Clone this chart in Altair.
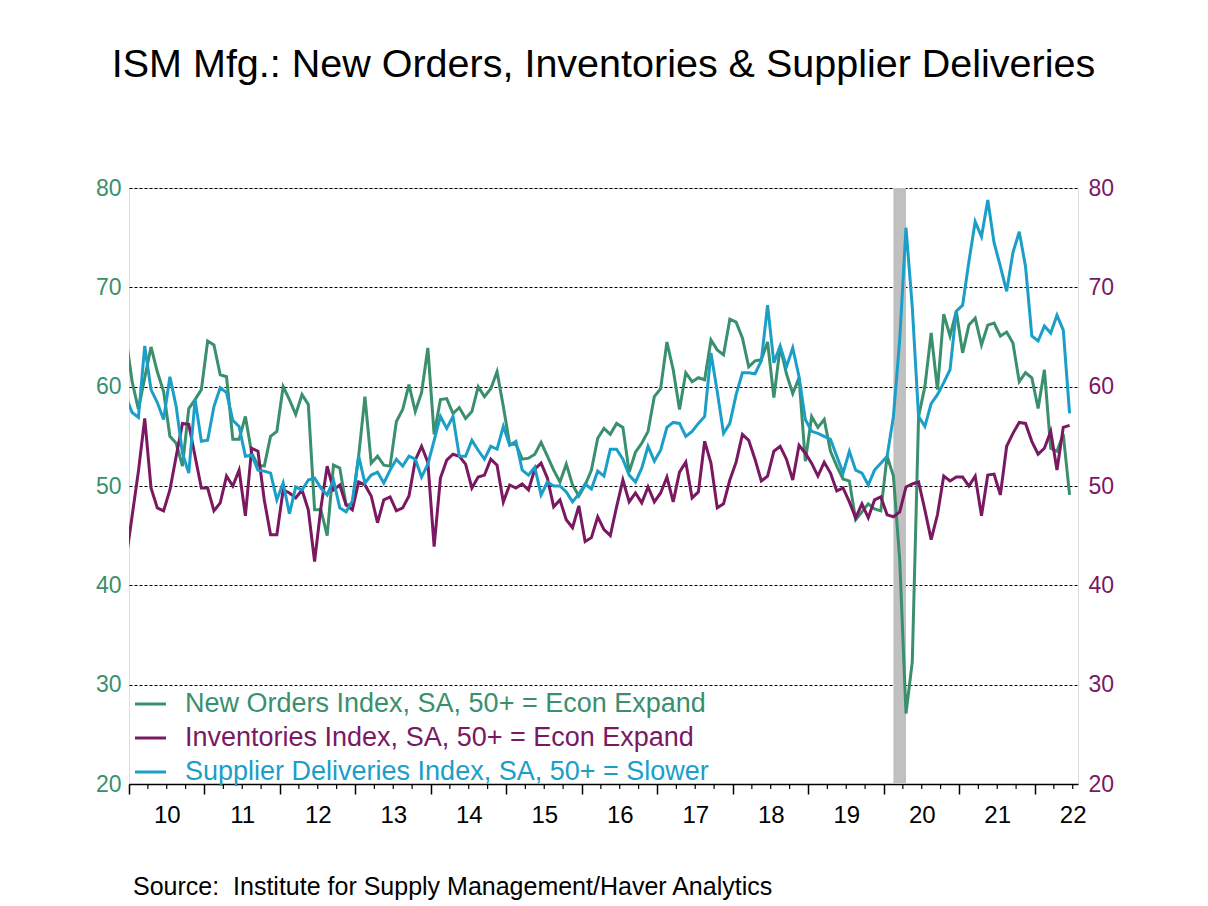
import altair as alt
import pandas as pd

# Monthly readings, Dec 2009 through Jun 2022 (Dec 2009 sits just left of the axis and is clipped)
months = pd.period_range("2009-12", "2022-06", freq="M")

new_orders = [
    65.0,
    60.5, 57.7, 60.9, 64.0, 61.5, 59.5, 55.0, 54.3, 52.0, 57.8, 58.7, 59.7,
    64.6, 64.2, 61.2, 61.0, 54.7, 54.7, 57.0, 53.3, 52.1, 52.0, 55.0, 55.5,
    60.0, 58.7, 57.2, 59.2, 58.2, 47.6, 47.6, 45.0, 52.1, 51.8, 48.1, 48.1,
    53.0, 59.0, 52.3, 53.0, 52.1, 52.0, 56.5, 57.7, 60.2, 57.5, 59.4, 63.9,
    55.2, 58.7, 58.8, 57.3, 57.9, 56.8, 57.5, 60.0, 59.0, 59.8, 61.5, 58.0,
    54.2, 54.2, 52.7, 52.8, 53.2, 54.4, 53.0, 51.6, 50.4, 52.2, 50.1, 49.0,
    50.1, 51.6, 54.8, 55.8, 55.2, 56.3, 55.9, 51.4, 53.4, 54.3, 55.5, 59.0,
    59.8, 64.5, 61.7, 57.7, 61.4, 60.5, 60.9, 60.7, 64.7, 63.7, 63.2, 66.8,
    66.5, 64.9, 62.0, 62.6, 62.7, 64.5, 58.9, 64.0, 61.3, 59.3, 60.9, 52.5,
    57.0, 55.9, 56.7, 53.5, 52.0, 50.7, 50.5, 46.6, 47.4, 48.2, 47.7, 47.5,
    53.0, 51.0, 42.6, 27.1, 32.3, 57.0, 60.0, 65.4, 59.7, 67.3, 65.1, 67.6,
    63.4, 66.2, 66.9, 64.2, 66.2, 66.4, 65.1, 65.5, 64.4, 60.5, 61.4, 60.9,
    57.8, 61.7, 53.8, 53.5, 55.2, 49.1,
]

inventories = [
    42.5,
    47.0, 51.5, 56.8, 49.8, 47.8, 47.5, 49.6, 53.0, 56.3, 56.2, 53.0, 49.8,
    49.8, 47.5, 48.3, 51.0, 50.0, 51.6, 47.0, 53.8, 53.5, 48.6, 45.1, 45.1,
    49.6, 49.3, 48.8, 49.6, 47.6, 42.4, 47.8, 52.0, 49.6, 50.1, 48.1, 47.6,
    50.4, 50.1, 49.0, 46.3, 48.6, 48.9, 47.5, 47.8, 49.0, 52.6, 54.0, 52.4,
    43.9, 50.8, 52.6, 53.2, 53.0, 52.2, 49.8, 50.9, 51.1, 52.7, 52.1, 48.4,
    50.1, 49.8, 50.2, 49.6, 51.7, 52.3, 50.8, 47.9, 48.6, 46.6, 45.8, 48.0,
    44.4, 44.8, 46.9, 45.6, 45.0, 47.9, 50.6, 48.4, 49.3, 48.3, 49.9, 48.4,
    49.3, 50.9, 48.4, 51.4, 52.4, 48.8, 49.4, 54.5, 52.3, 47.8, 48.2, 50.6,
    52.4, 55.2, 54.6, 52.7, 50.5, 51.0, 53.5, 54.0, 52.7, 50.6, 54.1, 53.3,
    52.3, 51.0, 52.4, 51.3, 49.5, 49.8, 48.4, 46.8, 48.2, 46.8, 48.6, 48.9,
    47.1, 46.9, 47.4, 49.9, 50.2, 50.4, 47.6, 44.6, 47.1, 51.0, 50.5, 50.9,
    50.9, 50.0, 51.0, 47.0, 51.1, 51.2, 49.1, 54.0, 55.3, 56.4, 56.3, 54.5,
    53.2, 53.8, 55.5, 51.6, 55.9, 56.1,
]

supplier_deliveries = [
    59.0,
    57.4, 56.9, 64.1, 59.7, 58.4, 56.7, 61.0, 58.0, 53.3, 51.3, 58.7, 54.5,
    54.6, 58.0, 59.9, 59.4, 56.6, 56.0, 53.0, 53.1, 51.6, 51.5, 51.3, 48.6,
    50.3, 47.2, 49.9, 49.6, 50.6, 50.8, 49.8, 49.1, 50.6, 47.8, 47.4, 48.5,
    53.0, 50.3, 51.1, 51.4, 50.3, 51.6, 52.7, 52.0, 53.0, 52.7, 50.9, 52.2,
    54.6, 57.0, 55.8, 57.0, 53.0, 53.0, 54.6, 53.6, 52.7, 54.0, 53.7, 56.0,
    54.1, 54.5, 51.6, 51.1, 51.9, 49.1, 50.4, 50.0, 50.0, 49.4, 48.4, 49.2,
    50.2, 49.7, 51.5, 51.0, 53.7, 53.7, 52.7, 51.1, 50.4, 51.8, 54.0, 52.5,
    53.6, 55.9, 56.4, 56.3, 55.0, 55.5, 56.3, 57.0, 63.4, 59.5, 55.3, 56.3,
    59.2, 61.4, 61.4, 61.3, 62.6, 68.2, 62.4, 64.1, 62.0, 63.9, 61.0, 56.7,
    55.5, 55.3, 55.0, 54.7, 53.0, 51.3, 53.5, 51.6, 51.3, 50.1, 51.6, 52.3,
    53.0, 57.0, 64.7, 76.0, 68.0, 57.0, 56.0, 58.3, 59.2, 60.4, 61.7, 67.6,
    68.2, 72.6, 76.6, 75.1, 78.8, 74.5, 72.1, 69.6, 73.5, 75.6, 72.1, 65.1,
    64.6, 66.1, 65.4, 67.2, 65.7, 57.3,
]

series_names = [
    "New Orders Index, SA, 50+ = Econ Expand",
    "Inventories Index, SA, 50+ = Econ Expand",
    "Supplier Deliveries Index, SA, 50+ = Slower",
]
series_colors = ["#3a8f6c", "#7a1862", "#1b9ec8"]

recession_months = ["2020-02", "2020-04"]   # shaded band, mid-month to mid-month
year_ticks = list(range(2010, 2023))
y_ticks = [20, 30, 40, 50, 60, 70, 80]

title_text = "ISM Mfg.: New Orders, Inventories & Supplier Deliveries"
source_text = "Source:\u00a0 Institute for Supply Management/Haver Analytics"

FONT = "Liberation Sans"
PLOT_W, PLOT_H = 949, 596
X_START, X_END = 2010.0, 2022.57
HALF_YEAR_PX = PLOT_W / (X_END - X_START) / 2


def month_pos(p):
    """Place a monthly observation in the middle of its month, in fractional years."""
    return p.year + (p.month - 0.5) / 12


for s in (new_orders, inventories, supplier_deliveries):
    assert len(s) == len(months)

x_scale = alt.Scale(domain=[X_START, X_END], nice=False, zero=False)
y_scale = alt.Scale(domain=[20, 80], nice=False, zero=False)

# one shared time axis: ticks at each January, two-digit year centred on the year
x_axis = alt.Axis(
    values=year_ticks,
    format="d",
    labelExpr="slice(datum.label, -2)",
    labelOffset=HALF_YEAR_PX,
    labelFlush=False,
    labelBound=False,
    labelOverlap=False,
    labelFont=FONT,
    labelFontSize=24,
    labelColor="black",
    labelPadding=9,
    ticks=True,
    tickSize=10,
    tickColor="black",
    tickWidth=1.5,
    domain=True,
    domainColor="black",
    domainWidth=1.5,
    grid=False,
    title=None,
)

left_axis = alt.Axis(
    orient="left",
    values=y_ticks,
    grid=True,
    gridColor="black",
    gridDash=[3, 2],
    gridWidth=1,
    ticks=False,
    domain=False,
    labelFont=FONT,
    labelFontSize=23,
    labelColor=series_colors[0],
    labelPadding=8,
    title=None,
)

right_axis = alt.Axis(
    orient="right",
    values=y_ticks,
    grid=False,
    ticks=False,
    domain=False,
    labelFont=FONT,
    labelFontSize=23,
    labelColor=series_colors[1],
    labelPadding=10,
    title=None,
)

# recession shading
rec = pd.DataFrame({
    "start": [month_pos(pd.Period(recession_months[0], freq="M"))],
    "end": [month_pos(pd.Period(recession_months[1], freq="M"))],
})
recession_layer = alt.Chart(rec).mark_rect(color="#c0c0c0").encode(
    x=alt.X("start:Q", scale=x_scale, axis=x_axis),
    x2="end:Q",
    y=alt.value(0),
    y2=alt.value(PLOT_H),
)


def series_layer(values, color, y_ax):
    df = pd.DataFrame({"t": [month_pos(p) for p in months], "value": values})
    return alt.Chart(df).mark_line(color=color, strokeWidth=3, clip=True).encode(
        x=alt.X("t:Q", scale=x_scale, axis=x_axis),
        y=alt.Y("value:Q", scale=y_scale, axis=y_ax),
    )


orders_layer = series_layer(new_orders, series_colors[0], left_axis)
inventory_layer = series_layer(inventories, series_colors[1], right_axis)
delivery_layer = series_layer(supplier_deliveries, series_colors[2], None)

# quarterly minor ticks under the time axis
quarters = pd.DataFrame({
    "q": [y + f for y in year_ticks for f in (0.25, 0.5, 0.75) if y + f <= X_END]
})
minor_ticks = alt.Chart(quarters).mark_rule(color="black", strokeWidth=1.2).encode(
    x=alt.X("q:Q", scale=x_scale, axis=x_axis),
    y=alt.value(PLOT_H),
    y2=alt.value(PLOT_H + 5),
)

# legend drawn inside the plot, bottom left
legend_layers = []
for i, (name, color) in enumerate(zip(series_names, series_colors)):
    base_y = 524 + 34 * i
    legend_layers.append(
        alt.Chart(pd.DataFrame({"k": [0]})).mark_rule(color=color, strokeWidth=3).encode(
            x=alt.value(6), x2=alt.value(37), y=alt.value(base_y - 8)
        )
    )
    legend_layers.append(
        alt.Chart(pd.DataFrame({"label": [name]})).mark_text(
            align="left", baseline="alphabetic", font=FONT, fontSize=27, color=color
        ).encode(text="label:N", x=alt.value(56), y=alt.value(base_y))
    )

source_layer = alt.Chart(pd.DataFrame({"label": [source_text]})).mark_text(
    align="left", baseline="alphabetic", font=FONT, fontSize=25, color="black"
).encode(text="label:N", x=alt.value(4), y=alt.value(PLOT_H + 111))

chart = alt.layer(
    recession_layer,
    orders_layer,
    inventory_layer,
    delivery_layer,
    minor_ticks,
    *legend_layers,
    source_layer,
).resolve_axis(
    y="independent"
).properties(
    width=PLOT_W,
    height=PLOT_H,
    title=alt.TitleParams(
        text=title_text,
        font=FONT,
        fontSize=39.5,
        fontWeight="normal",
        color="black",
        anchor="middle",
        frame="group",
        offset=92,
    ),
    autosize=alt.AutoSizeParams(type="none"),
    padding={"left": 129, "top": 188, "right": 130, "bottom": 122},
).configure_view(
    stroke=None
).configure(
    background="white"
)

chart.save("out.html", embed_options={"renderer": "svg", "actions": False})
